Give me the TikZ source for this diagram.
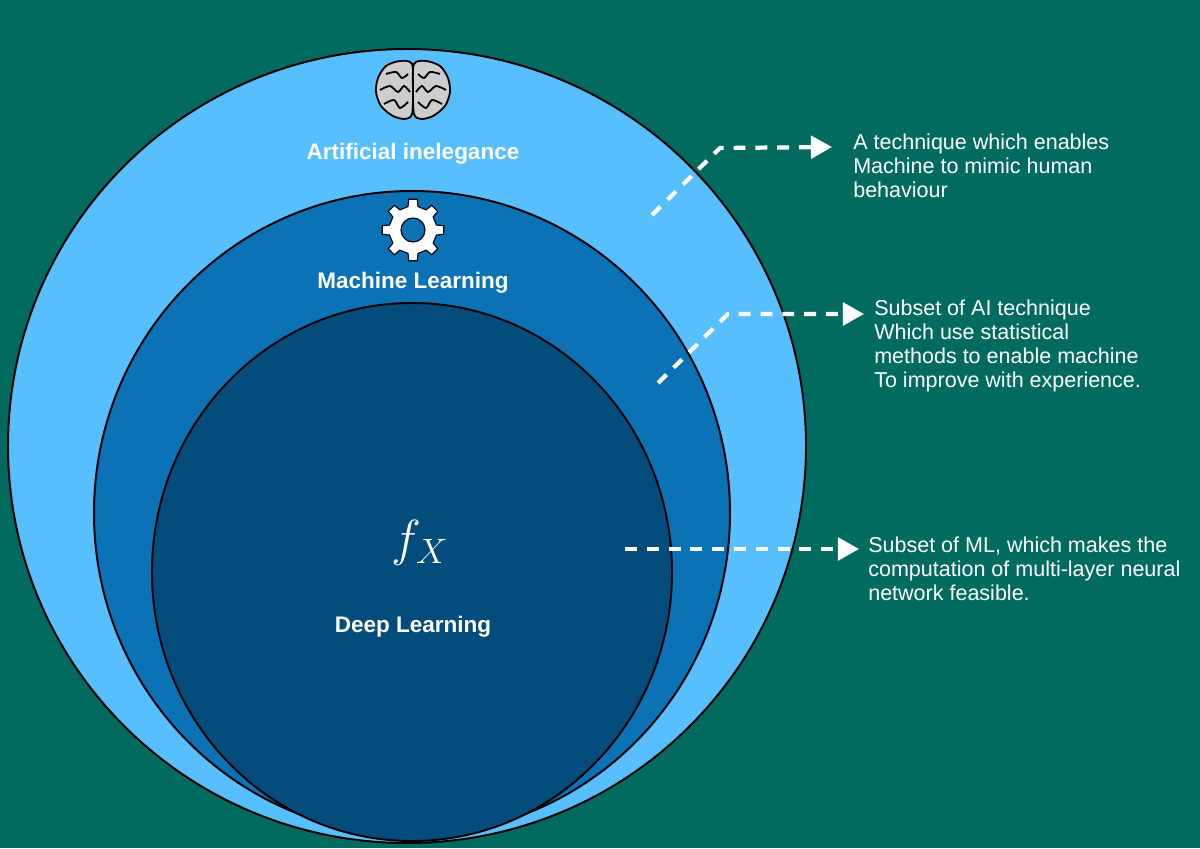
\documentclass[tikz,border=0pt]{standalone}
\usepackage{fontspec}
\setmainfont{Liberation Sans}
\usetikzlibrary{arrows.meta}
\definecolor{bg}{RGB}{2,107,96}
\definecolor{aicol}{RGB}{88,191,255}
\definecolor{mlcol}{RGB}{10,114,181}
\definecolor{dlcol}{RGB}{4,76,124}
\definecolor{braincol}{RGB}{205,205,205}
\tikzset{
  ring/.style={draw=black, line width=1.4pt},
  title/.style={text=white, font=\bfseries\fontsize{16}{19}\selectfont},
  desc/.style={text=white, anchor=north west, align=left, inner sep=0pt,
    font=\fontsize{15.3}{17}\selectfont},
  pointer/.style={white, line width=3pt, dash pattern=on 8.5pt off 7pt,
    -{Triangle[length=15pt,width=16pt]}},
}
\begin{document}
\begin{tikzpicture}[x=0.025cm, y=-0.025cm]
  \fill[bg] (0,0) rectangle (1200,848);
  \useasboundingbox (0,0) rectangle (1200,848);

  % nested circles
  \draw[ring, fill=aicol] (407,446) ellipse [x radius=399, y radius=397];
  \draw[ring, fill=mlcol] (412,513) ellipse [x radius=318, y radius=322];
  \draw[ring, fill=dlcol] (412,572) ellipse [x radius=260, y radius=269];

  % brain icon
  \begin{scope}[line width=1.3pt]
    \draw[fill=braincol] plot[smooth cycle] coordinates {(412,64) (400,61) (386,66) (378,78) (376,92) (381,106) (393,116) (405,119) (412,114) (413,90)};
    \draw[fill=braincol] plot[smooth cycle] coordinates {(414,64) (426,61) (440,66) (448,78) (450,92) (445,106) (433,116) (421,119) (414,114) (413,90)};
    \draw plot[smooth] coordinates {(386,74) (396,72) (402,78) (408,74)};
    \draw plot[smooth] coordinates {(380,90) (390,86) (398,92) (404,86) (410,92)};
    \draw plot[smooth] coordinates {(384,104) (394,100) (400,108) (408,102)};
    \draw plot[smooth] coordinates {(440,74) (430,72) (424,78) (418,74)};
    \draw plot[smooth] coordinates {(446,90) (436,86) (428,92) (422,86) (416,92)};
    \draw plot[smooth] coordinates {(442,104) (432,100) (426,108) (418,102)};
  \end{scope}

  % gear icon
  \begin{scope}[shift={(413,230)}]
    \draw[fill=white, line width=0.8pt] (-11:24)
      \foreach \a in {0,45,...,315}{ -- (\a-12:24) -- (\a-8:31) -- (\a+8:31) -- (\a+12:24)} -- cycle;
    \draw[fill=mlcol, line width=0.8pt] (0,0) circle [radius=12];
  \end{scope}

  % labels
  \node[title] (ai) at (413,154) {Artificial inelegance};
  \node[text=white, font=\fontsize{24}{24}\selectfont, scale=1.45] (fx) at (420,543) {$f_X$};
  \node[title] (ml) at (413,283) {Machine Learning};
  \node[title] (dl) at (413,627) {Deep Learning};

  % descriptions
  \node[desc] (d1) at (853,134) {A technique which enables\\Machine to mimic human\\behaviour};
  \node[desc] (d2) at (874,300) {Subset of AI technique\\Which use statistical\\methods to enable machine\\To improve with experience.};
  \node[desc] (d3) at (868,537) {Subset of ML, which makes the\\computation of multi-layer neural\\network feasible.};

  % pointers
  \coordinate (p1s) at (652,215);
  \coordinate (p1b) at (720,148);
  \coordinate (p1e) at (832,147);
  \coordinate (p2s) at (658,383);
  \coordinate (p2b) at (728,314);
  \coordinate (p2e) at (864,314);
  \coordinate (p3s) at (625,549);
  \coordinate (p3e) at (859,549);
  \draw[pointer] (p1s) -- (p1b) -- (p1e);
  \draw[pointer] (p2s) -- (p2b) -- (p2e);
  \draw[pointer] (p3s) -- (p3e);
\end{tikzpicture}
\end{document}
